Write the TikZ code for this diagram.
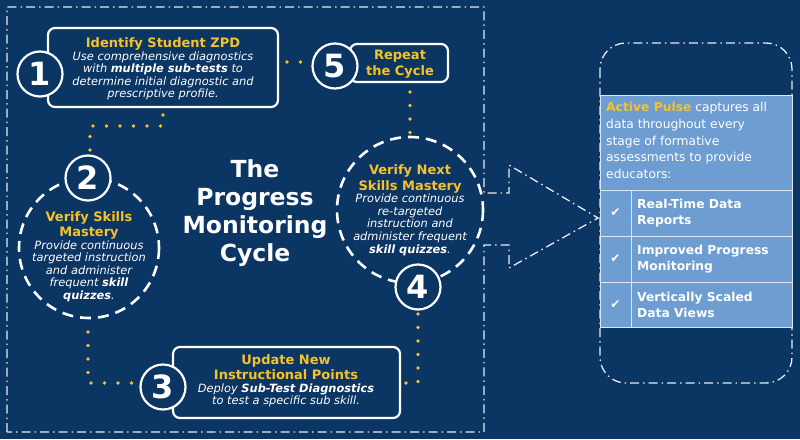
\documentclass[tikz,border=0pt]{standalone}
\usepackage{fontspec}
\setmainfont{DejaVu Sans}
\usetikzlibrary{calc}
\definecolor{bg}{HTML}{0B3562}
\definecolor{yel}{HTML}{F6C22A}
\definecolor{lb}{HTML}{6E9DD1}
\newcommand{\hd}[1]{\textcolor{yel}{\bfseries\upshape\fontsize{13}{15}\selectfont #1}}
\begin{document}
\begin{tikzpicture}[x=1pt,y=-1pt,
  frame/.style={draw=white!90!bg,line width=1.3pt,dash pattern=on 9pt off 4pt on 1.5pt off 4pt},
  dots/.style={draw=yel,line width=3.6pt,line cap=round,dash pattern=on 0pt off 13.5pt},
  numc/.style={circle,draw=white,line width=2.2pt,fill=bg,minimum size=45pt,inner sep=0pt,text=white,font=\bfseries\fontsize{32}{32}\selectfont},
  tbox/.style={draw=white,line width=2.2pt,rounded corners=7pt},
  dcirc/.style={draw=white,line width=2.6pt,dash pattern=on 11pt off 7pt},
  body/.style={text=white,align=center,inner sep=0pt,font=\itshape\fontsize{11.4}{12.6}\selectfont},
  head/.style={text=yel,font=\bfseries\fontsize{13}{16}\selectfont,align=center},
  rtxt/.style={text=white,align=left,font=\fontsize{12.3}{16.8}\selectfont}]
\fill[bg] (0,0) rectangle (800,439);
\useasboundingbox (0,0) rectangle (800,439);
% outer frame with arrow
\draw[frame] (7,432) -- (7,7) -- (484,7) -- (484,193) -- (509,193) -- (509,165) -- (598,218) -- (509,268) -- (509,245) -- (484,245) -- (484,432) -- cycle;
% right panel
\draw[frame,rounded corners=26pt] (600,43) rectangle (792,383);
\fill[lb] (600,95) rectangle (792,327);
\draw[white!75!lb,line width=0.8pt] (600,95) rectangle (792,327) (600,190)--(792,190) (600,236)--(792,236) (600,282)--(792,282) (631,190)--(631,327);
\node[rtxt,anchor=north west,inner sep=0pt] (ap) at (606,102) {\textcolor{yel}{\bfseries Active Pulse} captures all\\data throughout every\\stage of formative\\assessments to provide\\educators:};
\foreach \y/\t [count=\i] in {213/{Real-Time Data\\Reports},259/{Improved Progress\\Monitoring},305/{Vertically Scaled\\Data Views}}{
  \node[text=white,font=\fontsize{12}{12}\selectfont] (ck\i) at (615.5,\y) {✔};
  \node[rtxt,anchor=west,font=\bfseries\fontsize{12.3}{16.5}\selectfont,inner sep=0pt] (r\i) at (637,\y) {\t};
}
% dotted connectors
\coordinate (d1a) at (163,115); \coordinate (d1b) at (163,126); \coordinate (d1c) at (90,126); \coordinate (d1d) at (90,152);
\draw[dots] (d1a) -- (d1b) -- (d1c) -- (d1d);
\draw[dots] (287,62) -- (302,62);
\draw[dots] (410,92) -- (410,136);
\draw[dots] (88,332) -- (88,383) -- (134,383);
\draw[dots] (418,314) -- (418,383) -- (403,383);
% boxes
\draw[tbox] (48,28) rectangle (278,107);
\draw[tbox] (350,44) rectangle (448,82);
\draw[tbox] (173,347) rectangle (400,418);
% dashed circles
\draw[dcirc] (89,248) circle (70);
\draw[dcirc] (410,210) circle (73);
% number circles
\node[numc] (n1) at (40,74) {1};
\node[numc] (n5) at (335,66) {5};
\node[numc] (n2) at (88,178) {2};
\node[numc] (n4) at (418,287) {4};
\node[numc] (n3) at (163,387) {3};
% texts
\node[body] (t1) at (163,69) {\hd{Identify Student ZPD}\\Use comprehensive diagnostics\\with \textbf{multiple sub-tests} to\\determine initial diagnostic and\\prescriptive profile.};
\node[head,inner sep=0pt] (t5) at (400,64) {Repeat\\the Cycle};
\node[body] (t2) at (89,257) {\hd{Verify Skills}\\[2pt]\hd{Mastery}\\Provide continuous\\targeted instruction\\and administer\\frequent \textbf{skill}\\\textbf{quizzes}.};
\node[body] (t4) at (410,210) {\hd{Verify Next}\\[2pt]\hd{Skills Mastery}\\Provide continuous\\re-targeted\\instruction and\\administer frequent\\\textbf{skill quizzes}.};
\node[body] (t3) at (286,381) {\hd{Update New}\\[2pt]\hd{Instructional Points}\\Deploy \textbf{Sub-Test Diagnostics}\\to test a specific sub skill.};
\node[text=white,align=center,font=\bfseries\fontsize{23.5}{28}\selectfont] (title) at (255,213) {The\\Progress\\Monitoring\\Cycle};
\end{tikzpicture}
\end{document}
